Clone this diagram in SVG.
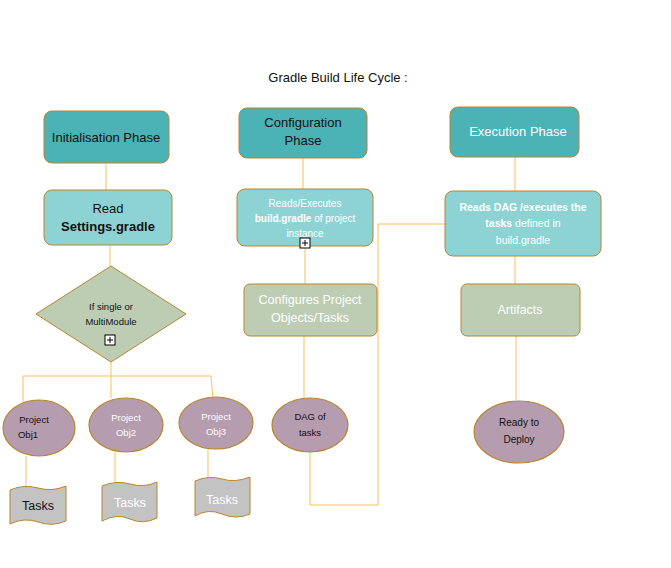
<svg xmlns="http://www.w3.org/2000/svg" width="671" height="568" viewBox="0 0 671 568">
<style>
text{font-family:"Liberation Sans",Arial,sans-serif;text-anchor:middle}
.t1{fill:#4bb2b5;stroke:#b8862f;stroke-width:1}
.t2{fill:#8ed3d4;stroke:#b8862f;stroke-width:1}
.g{fill:#bccdb3;stroke:#b8862f;stroke-width:1}
.p{fill:#b59caf;stroke:#b8862f;stroke-width:1.2}
.k{fill:#c3c3c3;stroke:#b8862f;stroke-width:1}
.c{fill:none;stroke:#f7c15a;stroke-width:1}
.w{fill:#fff}
.b{fill:#111}
.pl{fill:#fff;stroke:#000;stroke-width:1}
</style>
<rect width="671" height="568" fill="#fff"/>
<text x="338" y="82" font-size="13" class="b">Gradle Build Life Cycle :</text>
<g id="connectors">
<path class="c" d="M106 163V190M110 245V266M303 158V189M305 246V284M515 157V191M515 256V284M516 336V400"/>
<path class="c" d="M111 362V398M23 376H211M23 376V403M211 376L213 399M26 456V490M115 452V484M208 450V478"/>
<path class="c" d="M304 336V398M310 452V505H378V224H445"/>
</g>
<g id="init"><rect class="t1" x="44" y="111" width="125" height="52" rx="8"/><text x="106" y="142" font-size="13" class="b">Initialisation Phase</text></g>
<g id="config"><rect class="t1" x="239" y="108" width="128" height="50" rx="8"/><text x="303" y="127" font-size="13" class="b">Configuration</text><text x="303" y="145" font-size="13" class="b">Phase</text></g>
<g id="exec"><rect class="t1" x="450" y="107" width="129" height="50" rx="8"/><text x="518" y="136" font-size="13" class="w">Execution Phase</text></g>
<g id="read"><rect class="t2" x="44" y="190" width="128" height="55" rx="8"/><text x="108" y="213" font-size="13" class="b">Read</text><text x="108" y="231" font-size="13" font-weight="bold" class="b">Settings.gradle</text></g>
<g id="reads"><rect class="t2" x="237" y="189" width="136" height="57" rx="8"/><text x="305" y="207" font-size="10" class="w">Reads/Executes</text><text x="305" y="222" font-size="10" class="w"><tspan font-weight="bold">build.gradle</tspan> of project</text><text x="305" y="237" font-size="10" class="w">instance</text><rect class="pl" x="300" y="238" width="10" height="10"/><path d="M305 240V246M302 243H308" stroke="#000"/></g>
<g id="readsdag"><rect class="t2" x="445" y="191" width="156" height="65" rx="8"/><text x="523" y="211" font-size="10.5" font-weight="bold" class="w">Reads DAG /executes the</text><text x="523" y="227" font-size="10.5" class="w"><tspan font-weight="bold">tasks</tspan> defined in</text><text x="523" y="244" font-size="10.5" class="w">build.gradle</text></g>
<g id="diamond"><polygon class="g" points="111,266 186,314 111,362 36,314"/><text x="111" y="310" font-size="9.5" class="b">If single or</text><text x="111" y="325" font-size="9.5" class="b">MultiModule</text><rect class="pl" x="105" y="335" width="10" height="10"/><path d="M110 337V343M107 340H113" stroke="#000"/></g>
<g id="configures"><rect class="g" x="244" y="284" width="133" height="52" rx="6"/><text x="310" y="304" font-size="12.5" class="w">Configures Project</text><text x="310" y="322" font-size="12.5" class="w">Objects/Tasks</text></g>
<g id="artifacts"><rect class="g" x="461" y="284" width="119" height="52" rx="6"/><text x="520" y="314" font-size="12.5" class="w">Artifacts</text></g>
<g id="obj1"><ellipse class="p" cx="39" cy="428" rx="36" ry="28"/><text x="34" y="423" font-size="9.5" class="b">Project</text><text x="28" y="438" font-size="9.5" class="b">Obj1</text></g>
<g id="obj2"><ellipse class="p" cx="126" cy="425" rx="37" ry="27"/><text x="126" y="421" font-size="9.5" class="w">Project</text><text x="126" y="436" font-size="9.5" class="w">Obj2</text></g>
<g id="obj3"><ellipse class="p" cx="216" cy="423" rx="37" ry="26"/><text x="216" y="420" font-size="9.5" class="w">Project</text><text x="216" y="435" font-size="9.5" class="w">Obj3</text></g>
<g id="dag"><ellipse class="p" cx="310" cy="425" rx="38" ry="27"/><text x="310" y="420" font-size="9.5" class="b">DAG of</text><text x="310" y="436" font-size="9.5" class="b">tasks</text></g>
<g id="deploy"><ellipse class="p" cx="519" cy="432" rx="45" ry="31"/><text x="519" y="426" font-size="10" class="b">Ready to</text><text x="519" y="443" font-size="10" class="b">Deploy</text></g>
<g id="tasks1"><path class="k" d="M10 490Q24 484 38 488T66 486V521Q52 527 38 522T10 524Z"/><text x="38" y="510" font-size="12.5" class="b">Tasks</text></g>
<g id="tasks2"><path class="k" d="M102 486Q116 480 130 484T157 482V518Q143 525 130 519T102 521Z"/><text x="130" y="507" font-size="12.5" class="w">Tasks</text></g>
<g id="tasks3"><path class="k" d="M195 481Q209 475 222 479T250 477V514Q236 520 222 514T195 516Z"/><text x="222" y="504" font-size="12.5" class="w">Tasks</text></g>
</svg>
